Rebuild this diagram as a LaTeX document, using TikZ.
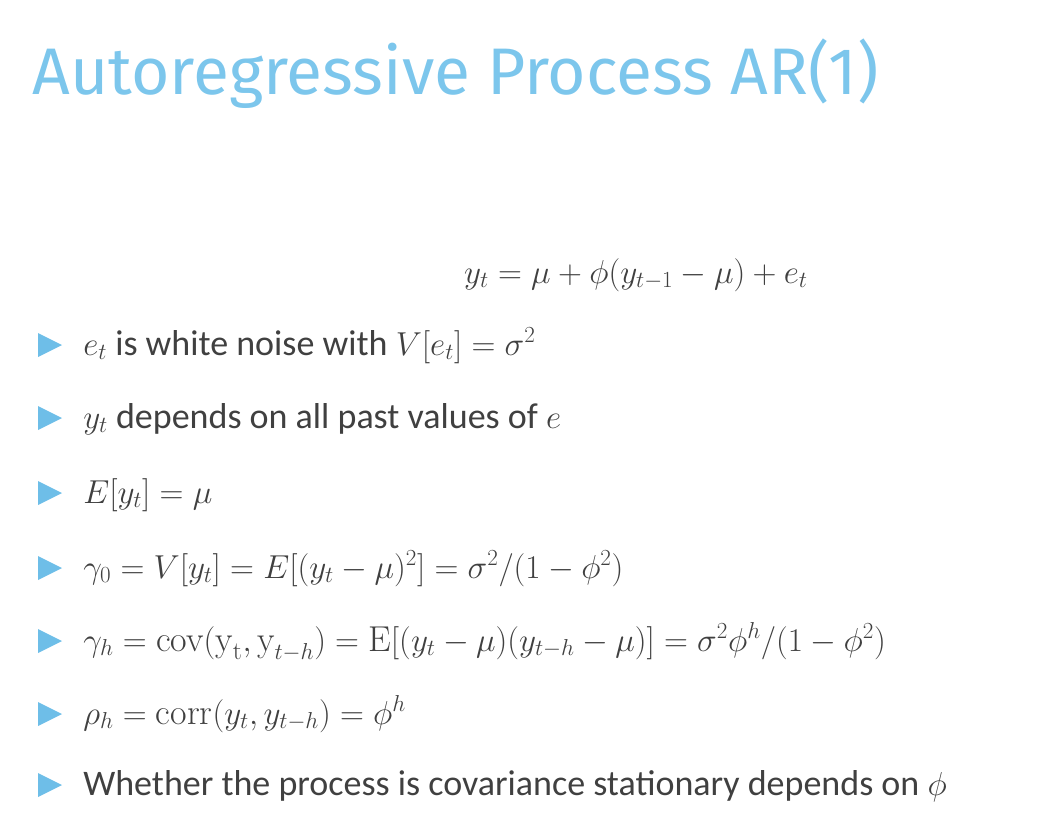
\documentclass[tikz,border=0pt]{standalone}
\usepackage{fontspec}
\setmainfont{Carlito}
\newfontfamily\titlefont{Fira Sans}
\newfontfamily\serifup{Latin Modern Roman}
\begin{document}
\begin{tikzpicture}[x=0.75pt,y=-0.75pt,
  txt/.style={anchor=base west,text=textgray,font=\fontsize{27}{31}\selectfont,inner sep=0pt},
  bul/.style={fill=bulblue,draw=none}]
\definecolor{titleblue}{RGB}{124,198,236}
\definecolor{bulblue}{RGB}{110,190,232}
\definecolor{textgray}{RGB}{64,64,64}
\useasboundingbox (0,0) rectangle (1038,838);
\node[anchor=base west,inner sep=0pt,text=titleblue] (title) at (32,95)
  {\resizebox{634.5pt}{!}{\titlefont\fontsize{56}{60}\selectfont Autoregressive Process AR(1)}};
\node[txt,anchor=base] (eq) at (636,283) {$y_t=\mu+\phi(y_{t-1}-\mu)+e_t$};
\foreach \y in {355,428,503,578,651,724,795}{
  \fill[bul] (38,\y-22) -- (62,\y-10) -- (38,\y+2) -- cycle;
}
\newcommand{\ur}[1]{\hbox{\serifup #1}}
\newcommand{\urs}[1]{\hbox{\serifup\fontsize{19}{20}\selectfont #1}}
\node[txt] (l1) at (83,355) {$e_t$ is white noise with $V[e_t]=\sigma^2$};
\node[txt] (l2) at (83,428) {$y_t$ depends on all past values of $e$};
\node[txt] (l3) at (83,503) {$E[y_t]=\mu$};
\node[txt] (l4) at (83,578) {$\gamma_0=V[y_t]=E[(y_t-\mu)^2]=\sigma^2/(1-\phi^2)$};
\node[txt] (l5) at (83,651) {$\gamma_h=\ur{cov}(\ur{y}_{\urs{t}},\ur{y}_{t-h})=\ur{E}[(y_t-\mu)(y_{t-h}-\mu)]=\sigma^2\phi^h/(1-\phi^2)$};
\node[txt] (l6) at (83,724) {$\rho_h=\ur{corr}(y_t,y_{t-h})=\phi^h$};
\node[txt] (l7) at (83,795) {Whether the process is covariance stationary depends on $\phi$};
\end{tikzpicture}
\end{document}
